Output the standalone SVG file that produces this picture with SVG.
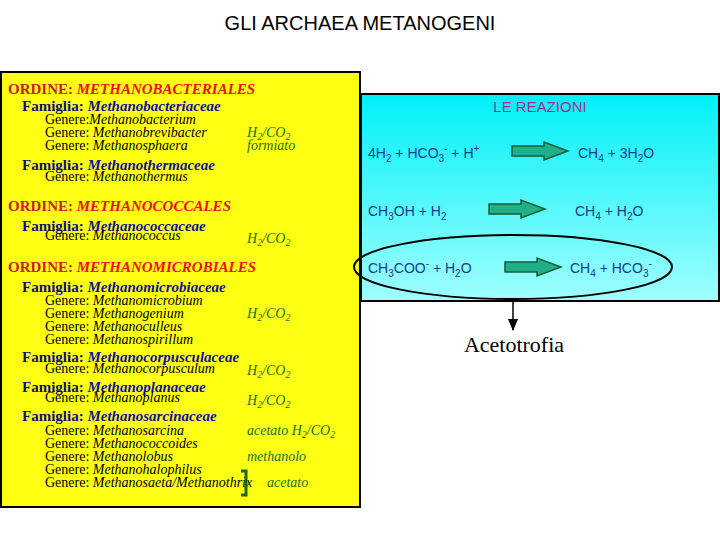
<svg xmlns="http://www.w3.org/2000/svg" width="720" height="540" viewBox="0 0 720 540">
<defs>
<linearGradient id="cy" x1="0" y1="0" x2="0" y2="1"><stop offset="0" stop-color="#00f0f8"/><stop offset="1" stop-color="#a0ffff"/></linearGradient>
<marker id="ah" markerWidth="12" markerHeight="10" refX="11" refY="5" orient="auto" markerUnits="userSpaceOnUse"><path d="M0,0 L12,5 L0,10 z" fill="#000"/></marker>
<path id="blk" d="M0,4 H32 V0 L56,9 L32,18 V14 H0 Z" fill="#20b088" stroke="#1a5a3a" stroke-width="1.5"/>
</defs>
<style>
.s{font-family:"Liberation Serif",serif}
.o{font-size:15px;font-weight:bold;fill:#cc2020}
.oi{font-style:italic;fill:#ee1010}
.f{font-size:15px;font-weight:bold;fill:#10107a}
.fi{font-style:italic;fill:#1010a0}
.g{font-size:14px;fill:#000}
.gi{font-style:italic}
.c{font-size:14px;font-style:italic;fill:#207020}
.r{font-family:"Liberation Sans",Arial,sans-serif;font-size:14px;fill:#1a3a8a}
</style>
<rect width="720" height="540" fill="#fff"/>
<text x="360" y="30" text-anchor="middle" font-family="Liberation Sans,Arial,sans-serif" font-size="20">GLI ARCHAEA METANOGENI</text>
<g id="left">
<rect x="1" y="72" width="359" height="435" fill="#ffff14" stroke="#000" stroke-width="2"/>
<g class="s">
<text x="8" y="94" class="o">ORDINE: <tspan class="oi">METHANOBACTERIALES</tspan></text>
<text x="22" y="111" class="f">Famiglia: <tspan class="fi">Methanobacteriaceae</tspan></text>
<text x="45" y="124" class="g">Genere:<tspan class="gi">Methanobacterium</tspan></text>
<text x="45" y="137" class="g">Genere: <tspan class="gi">Methanobrevibacter</tspan></text>
<text x="45" y="150" class="g">Genere: <tspan class="gi">Methanosphaera</tspan></text>
<text x="247" y="137" class="c">H<tspan dy="3" font-size="10">2</tspan><tspan dy="-3">/CO</tspan><tspan dy="3" font-size="10">2</tspan></text>
<text x="247" y="150" class="c">formiato</text>
<text x="22" y="170" class="f">Famiglia: <tspan class="fi">Methanothermaceae</tspan></text>
<text x="45" y="181" class="g">Genere: <tspan class="gi">Methanothermus</tspan></text>
<text x="8" y="211" class="o">ORDINE: <tspan class="oi">METHANOCOCCALES</tspan></text>
<text x="22" y="231" class="f">Famiglia: <tspan class="fi">Methanococcaceae</tspan></text>
<text x="45" y="240" class="g">Genere: <tspan class="gi">Methanococcus</tspan></text>
<text x="247" y="243" class="c">H<tspan dy="3" font-size="10">2</tspan><tspan dy="-3">/CO</tspan><tspan dy="3" font-size="10">2</tspan></text>
<text x="8" y="272" class="o">ORDINE: <tspan class="oi">METHANOMICROBIALES</tspan></text>
<text x="22" y="292" class="f">Famiglia: <tspan class="fi">Methanomicrobiaceae</tspan></text>
<text x="45" y="305" class="g">Genere: <tspan class="gi">Methanomicrobium</tspan></text>
<text x="45" y="318" class="g">Genere: <tspan class="gi">Methanogenium</tspan></text>
<text x="45" y="331" class="g">Genere: <tspan class="gi">Methanoculleus</tspan></text>
<text x="45" y="344" class="g">Genere: <tspan class="gi">Methanospirillum</tspan></text>
<text x="247" y="318" class="c">H<tspan dy="3" font-size="10">2</tspan><tspan dy="-3">/CO</tspan><tspan dy="3" font-size="10">2</tspan></text>
<text x="22" y="362" class="f">Famiglia: <tspan class="fi">Methanocorpusculaceae</tspan></text>
<text x="45" y="373" class="g">Genere: <tspan class="gi">Methanocorpusculum</tspan></text>
<text x="247" y="375" class="c">H<tspan dy="3" font-size="10">2</tspan><tspan dy="-3">/CO</tspan><tspan dy="3" font-size="10">2</tspan></text>
<text x="22" y="392" class="f">Famiglia: <tspan class="fi">Methanoplanaceae</tspan></text>
<text x="45" y="402" class="g">Genere: <tspan class="gi">Methanoplanus</tspan></text>
<text x="247" y="405" class="c">H<tspan dy="3" font-size="10">2</tspan><tspan dy="-3">/CO</tspan><tspan dy="3" font-size="10">2</tspan></text>
<text x="22" y="421" class="f">Famiglia: <tspan class="fi">Methanosarcinaceae</tspan></text>
<text x="45" y="435" class="g">Genere: <tspan class="gi">Methanosarcina</tspan></text>
<text x="45" y="448" class="g">Genere: <tspan class="gi">Methanococcoides</tspan></text>
<text x="45" y="461" class="g">Genere: <tspan class="gi">Methanolobus</tspan></text>
<text x="45" y="474" class="g">Genere: <tspan class="gi">Methanohalophilus</tspan></text>
<text x="45" y="487" class="g">Genere: <tspan class="gi">Methanosaeta/Methanothrix</tspan></text>
<text x="247" y="435" class="c">acetato H<tspan dy="3" font-size="10">2</tspan><tspan dy="-3">/CO</tspan><tspan dy="3" font-size="10">2</tspan></text>
<text x="247" y="461" class="c">methanolo</text>
<text x="267" y="487" class="c">acetato</text>
</g>
<path d="M241,471 H246 V495 H241" fill="none" stroke="#1a6a1a" stroke-width="3"/>
</g>
<g id="reactions">
<rect x="361" y="94" width="358" height="207" fill="url(#cy)" stroke="#000" stroke-width="2"/>
<text x="540" y="112" text-anchor="middle" font-family="Liberation Sans,Arial,sans-serif" font-size="15" fill="#a03090">LE REAZIONI</text>
<text x="368" y="158" class="r">4H<tspan dy="4" font-size="10">2</tspan><tspan dy="-4"> + HCO</tspan><tspan dy="4" font-size="10">3</tspan><tspan dy="-10" font-size="10">-</tspan><tspan dy="6"> + H</tspan><tspan dy="-6" font-size="10">+</tspan></text>
<text x="578" y="158" class="r">CH<tspan dy="4" font-size="10">4</tspan><tspan dy="-4"> + 3H</tspan><tspan dy="4" font-size="10">2</tspan><tspan dy="-4">O</tspan></text>
<text x="368" y="216" class="r">CH<tspan dy="4" font-size="10">3</tspan><tspan dy="-4">OH + H</tspan><tspan dy="4" font-size="10">2</tspan></text>
<text x="575" y="216" class="r">CH<tspan dy="4" font-size="10">4</tspan><tspan dy="-4"> +  H</tspan><tspan dy="4" font-size="10">2</tspan><tspan dy="-4">O</tspan></text>
<text x="368" y="273" class="r">CH<tspan dy="4" font-size="10">3</tspan><tspan dy="-4">COO</tspan><tspan dy="-6" font-size="10">-</tspan><tspan dy="6"> + H</tspan><tspan dy="4" font-size="10">2</tspan><tspan dy="-4">O</tspan></text>
<text x="570" y="273" class="r">CH<tspan dy="4" font-size="10">4</tspan><tspan dy="-4"> + HCO</tspan><tspan dy="4" font-size="10">3</tspan><tspan dy="-10" font-size="10">-</tspan></text>
<use href="#blk" x="512" y="142"/>
<use href="#blk" x="489" y="200"/>
<use href="#blk" x="505" y="258"/>
</g>
<g id="connectors">
<ellipse cx="513" cy="267" rx="159" ry="32" fill="none" stroke="#000" stroke-width="2"/>
<line x1="513" y1="299" x2="513" y2="330" stroke="#000" stroke-width="1.5" marker-end="url(#ah)"/>
</g>
<text x="514" y="352" text-anchor="middle" font-family="Liberation Serif,serif" font-size="22">Acetotrofia</text>
</svg>
